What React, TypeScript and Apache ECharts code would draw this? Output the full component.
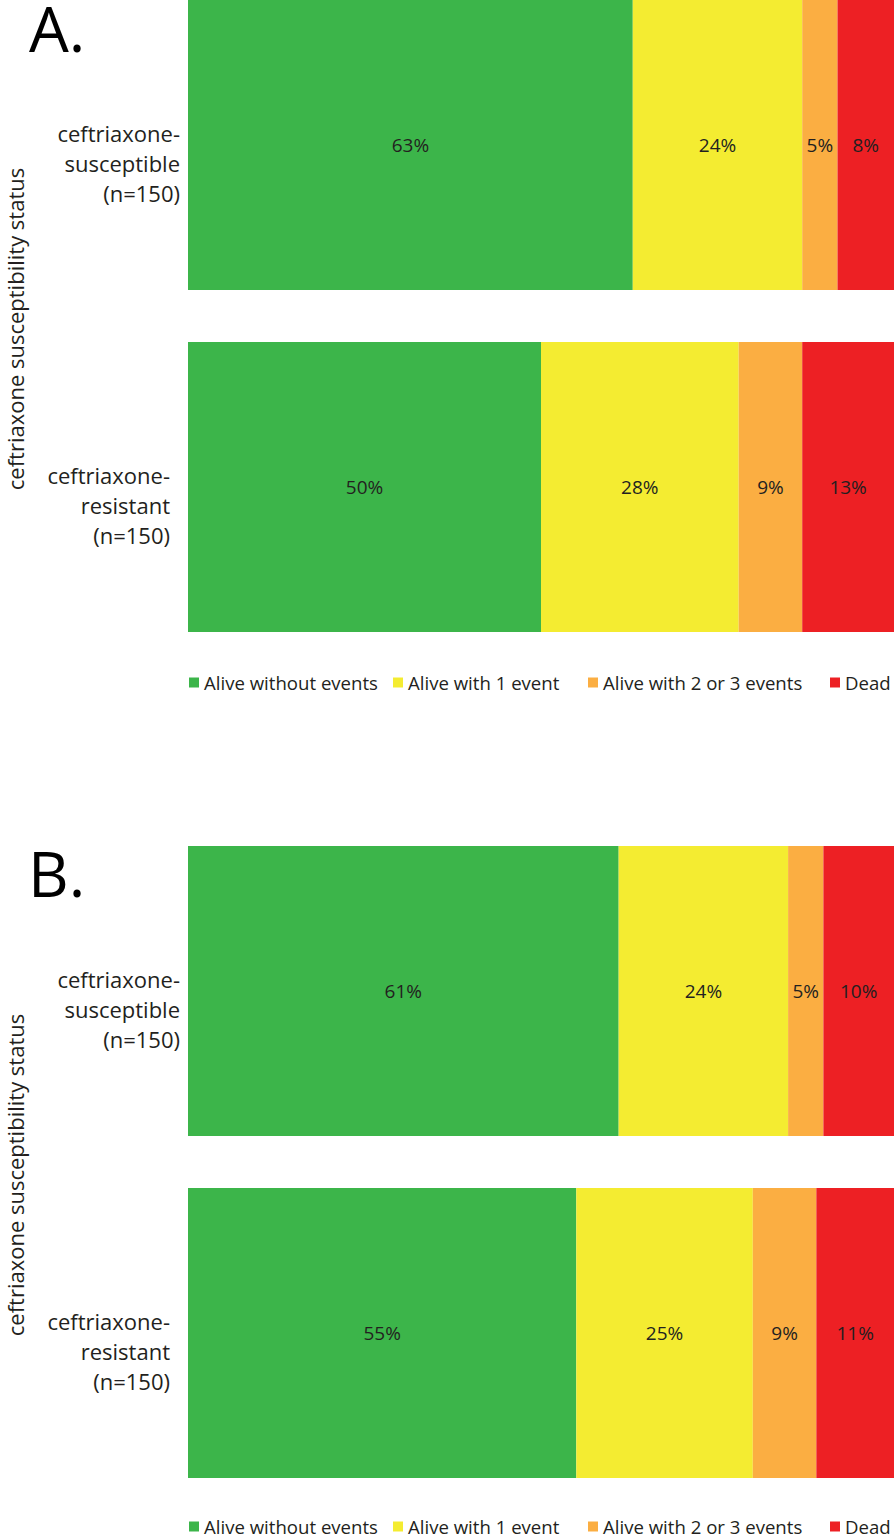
import React, { useEffect, useRef } from "react";
import * as echarts from "echarts";

const categories = ["ceftriaxone-\nsusceptible\n(n=150)", "ceftriaxone-\nresistant\n(n=150)"];
const outcomeNames = ["Alive without events", "Alive with 1 event", "Alive with 2 or 3 events", "Dead"];
const outcomeColors = ["#3cb54a", "#f4ec31", "#fbae42", "#ed2024"];
const panelTitles = ["A.", "B."];
const axisTitle = "ceftriaxone susceptibility status";

// Panel A (percent), order: susceptible, resistant
const aAliveNoEvent = [63, 50];
const aAliveOneEvent = [24, 28];
const aAliveTwoThree = [5, 9];
const aDead = [8, 13];

// Panel B (percent)
const bAliveNoEvent = [61, 55];
const bAliveOneEvent = [24, 25];
const bAliveTwoThree = [5, 9];
const bDead = [10, 11];

const panelData = [
  [aAliveNoEvent, aAliveOneEvent, aAliveTwoThree, aDead],
  [bAliveNoEvent, bAliveOneEvent, bAliveTwoThree, bDead],
];

const FONT = "'Open Sans', 'DejaVu Sans', sans-serif";
const INK = "#231f20";

export default function App() {
  const ref = useRef<HTMLDivElement>(null);
  useEffect(() => {
    if (!ref.current) return;
    const chart = echarts.init(ref.current, null, { renderer: "svg" });
    const gridTops = [-26, 820];
    const panelOffsets = [0, 846];
    const legendLefts = [189, 393, 588, 830];
    const legendTops = [673, 1517];

    const grids = gridTops.map((t) => ({
      left: 188,
      right: 0,
      top: t,
      height: 684,
      containLabel: false,
      outerBoundsMode: "none",
    }));
    const xAxes = gridTops.map((_, i) => ({
      type: "value",
      gridIndex: i,
      min: 0,
      max: 100,
      show: false,
    }));
    const yAxes = gridTops.map((_, i) => ({
      type: "category",
      gridIndex: i,
      data: categories,
      inverse: true,
      axisLine: { show: false },
      axisTick: { show: false },
      splitLine: { show: false },
      axisLabel: {
        margin: 8,
        padding: [36, 0, 0, 0],
        formatter: (v: string, idx: number) => {
          const tag = idx === 0 ? "s" : "r";
          return v.split("\n").map((l) => `{${tag}|${l}}`).join("\n");
        },
        rich: {
          s: { fontSize: 22, lineHeight: 30, fontFamily: FONT, color: INK, align: "right" },
          r: { fontSize: 22, lineHeight: 30, fontFamily: FONT, color: INK, align: "right", padding: [0, 10, 0, 0] },
        },
      },
    }));

    const series: any[] = [];
    panelData.forEach((rows, p) => {
      rows.forEach((vals, k) => {
        series.push({
          type: "bar",
          name: outcomeNames[k],
          xAxisIndex: p,
          yAxisIndex: p,
          stack: "panel" + p,
          barWidth: 290,
          clip: false,
          data: vals,
          itemStyle: { color: outcomeColors[k] },
          label: {
            show: true,
            position: "inside",
            formatter: "{c}%",
            fontSize: 19,
            fontFamily: FONT,
            color: INK,
          },
          emphasis: { disabled: true },
        });
      });
    });

    const legends: any[] = [];
    legendTops.forEach((top) => {
      outcomeNames.forEach((n, k) => {
        legends.push({
          data: [n],
          left: legendLefts[k],
          top,
          padding: 0,
          itemWidth: 10,
          itemHeight: 10,
          icon: "rect",
          selectedMode: false,
          textStyle: { fontSize: 18.6, fontFamily: FONT, color: INK },
        });
      });
    });

    const graphics: any[] = [];
    panelTitles.forEach((t, p) => {
      graphics.push({
        type: "text",
        x: p === 0 ? 29 : 28,
        y: 27 + panelOffsets[p] - (p === 1 ? 1 : 0),
        style: {
          text: t,
          fontSize: 63,
          lineHeight: 50,
          fontFamily: FONT,
          fill: "#000",
          verticalAlign: "middle",
          align: "left",
        },
      });
      graphics.push({
        type: "text",
        x: 15,
        y: 329 + panelOffsets[p],
        rotation: Math.PI / 2,
        style: {
          text: axisTitle,
          fontSize: 22,
          lineHeight: 22,
          fontFamily: FONT,
          fill: INK,
          verticalAlign: "middle",
          align: "center",
        },
      });
    });

    chart.setOption({
      animation: false,
      backgroundColor: "#ffffff",
      grid: grids,
      xAxis: xAxes,
      yAxis: yAxes,
      legend: legends,
      series,
      graphic: graphics,
    });
    return () => chart.dispose();
  }, []);
  return (
    <div
      ref={ref}
      style={{ position: "fixed", left: 0, top: 0, width: 894, height: 1539, background: "#fff" }}
    />
  );
}
